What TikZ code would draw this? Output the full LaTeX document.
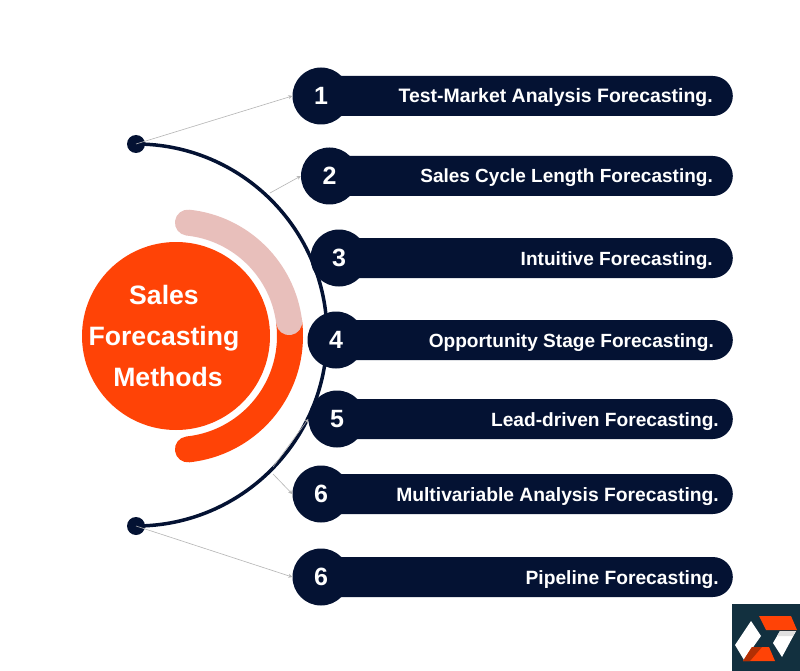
\documentclass[tikz,border=0pt]{standalone}
\usepackage{fontspec}
\setmainfont{Liberation Sans}
\usetikzlibrary{arrows.meta,shapes.misc}
\definecolor{navy}{HTML}{041233}
\definecolor{flame}{HTML}{FF4306}
\definecolor{blush}{HTML}{E8BFBB}
\definecolor{wire}{HTML}{B5B5B5}
\definecolor{logobg}{HTML}{12303F}
\tikzset{
  barbox/.style={rounded rectangle,rounded rectangle left arc=none,fill=navy,minimum height=40pt,inner sep=0pt},
  badge/.style={circle,fill=navy,text=white,minimum size=57pt,inner sep=0pt,font=\bfseries\fontsize{25}{25}\selectfont},
  label/.style={text=white,anchor=base east,inner sep=0pt,font=\bfseries\fontsize{#1}{#1}\selectfont},
  headline/.style={text=white,anchor=base,inner sep=0pt,font=\bfseries\fontsize{26.6}{26.6}\selectfont},
  dotmark/.style={circle,fill=navy,minimum size=18pt,inner sep=0pt},
  leader/.style={draw=wire,line width=0.6pt,-{Stealth[length=4pt,width=4pt]}},
}
\begin{document}
\begin{tikzpicture}[x=1pt,y=1pt]
\useasboundingbox (0,0) rectangle (800,-671);
\fill[white] (0,0) rectangle (800,-671);
% rings and centre
\draw[flame,line width=26pt,line cap=round] (176,-336) ++(7:114) arc[start angle=7,end angle=-84,radius=114];
\draw[blush,line width=26pt,line cap=round] (176,-336) ++(84:114) arc[start angle=84,end angle=7,radius=114];
\node[circle,fill=flame,minimum size=188pt,inner sep=0pt] (hub) at (176,-336) {};
\node[headline] (t1) at (164,-304) {Sales};
\node[headline] (t2) at (164,-345) {Forecasting};
\node[headline] (t3) at (168,-386) {Methods};
% big arc
\node[dotmark] (dA) at (136,-144) {};
\node[dotmark] (dB) at (136,-526) {};
\draw[navy,line width=3.5pt] (dA.center) arc[start angle=90,end angle=-90,radius=191];
% bars
\foreach \n/\x/\y/\d in {1/321/96/1,2/329.5/176/2,3/339/258/3,4/336/340/4,5/337/419/5,6/321/494/6,7/321/577/6}{
  \node[barbox,minimum width={733pt-\x pt},anchor=east] (bar\n) at (733,-\y) {};
  \node[badge] (b\n) at (\x,-\y) {\d};
}
\node[label=19.45] (l1) at (713,-103) {Test-Market Analysis Forecasting.};
\node[label=19.0] (l2) at (713,-183) {Sales Cycle Length Forecasting.};
\node[label=19.1] (l3) at (713,-265) {Intuitive Forecasting.};
\node[label=19.07] (l4) at (714,-347) {Opportunity Stage Forecasting.};
\node[label=19.15] (l5) at (719,-426) {Lead-driven Forecasting.};
\node[label=19.28] (l6) at (719,-501) {Multivariable Analysis Forecasting.};
\node[label=19.2] (l7) at (719,-584) {Pipeline Forecasting.};
% leaders
\coordinate (s2) at (270,-193);
\coordinate (s5) at (273,-467);
\coordinate (s6) at (273,-474);
\draw[leader] (dA.center) -- (b1.west);
\draw[leader] (s2) -- (b2.west);
\draw[leader] (s5) -- (b5.west);
\draw[leader] (s6) -- (b6.west);
\draw[leader] (dB.center) -- (b7.west);
% logo
\fill[logobg] (732,-604) rectangle (800,-671);
\fill[flame] (759,-616) -- (791,-616) -- (797,-630) -- (766,-630) -- cycle;
\fill[white] (751,-621) -- (761,-636) -- (744,-660) -- (735,-645) -- cycle;
\fill[flame] (752,-647) -- (769,-647) -- (775,-661) -- (743,-661) -- cycle;
\fill[flame!70!black] (752,-647) -- (762,-647) -- (750,-661) -- (743,-661) -- cycle;
\fill[white] (780,-631) -- (796,-631) -- (782,-657) -- (773,-643) -- cycle;
\fill[black!12] (780,-631) -- (796,-631) -- (793,-636) -- (777,-636) -- cycle;
\end{tikzpicture}
\end{document}
